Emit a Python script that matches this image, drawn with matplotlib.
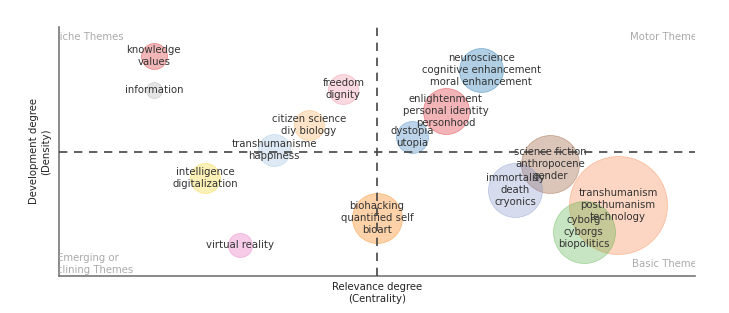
import numpy as np
import matplotlib
matplotlib.use("Agg")
import matplotlib.pyplot as plt
from matplotlib.colors import to_rgba

# Strategic diagram: themes by centrality (x) and density (y)
labels = [
    "knowledge\nvalues",
    "information",
    "freedom\ndignity",
    "citizen science\ndiy biology",
    "transhumanisme\nhappiness",
    "intelligence\ndigitalization",
    "virtual reality",
    "biohacking\nquantified self\nbioart",
    "neuroscience\ncognitive enhancement\nmoral enhancement",
    "enlightenment\npersonal identity\npersonhood",
    "dystopia\nutopia",
    "science fiction\nanthropocene\ngender",
    "immortality\ndeath\ncryonics",
    "transhumanism\nposthumanism\ntechnology",
    "cyborg\ncyborgs\nbiopolitics",
]
centrality = [0.149, 0.149, 0.447, 0.393, 0.338, 0.230, 0.285, 0.500,
              0.664, 0.608, 0.555, 0.772, 0.717, 0.879, 0.825]
density = [0.884, 0.747, 0.751, 0.606, 0.506, 0.394, 0.124, 0.233,
           0.827, 0.663, 0.558, 0.450, 0.345, 0.285, 0.177]
# bubble radius (pixels in the original)
radius = [13, 8, 15, 15, 16, 15, 12, 25, 22, 23, 16, 29, 27, 49, 31]
colors = ["#d62728", "#9a9a9a", "#f06a85", "#fba74a", "#9fc2e0", "#f5d530",
          "#e66fc0", "#fb8f2a", "#1f77b4", "#e0303a", "#3f86c4", "#985730",
          "#7a8ac6", "#f87a37", "#48ac37"]
alphas = [0.33, 0.25, 0.25, 0.3, 0.35, 0.35, 0.35, 0.4, 0.35, 0.36, 0.35,
          0.34, 0.3, 0.3, 0.3]

x_cut = 0.5
y_cut = 0.5

fig = plt.figure(figsize=(7.29, 3.13), dpi=100)
ax = fig.add_axes([59/729, 37/313, 636/729, 249/313])
ax.set_xlim(0, 1)
ax.set_ylim(0, 1)

for i in range(len(labels)):
    s = (2 * radius[i] * 0.72) ** 2
    ax.scatter(centrality[i], density[i], s=s,
               color=to_rgba(colors[i], alphas[i]),
               edgecolors=[to_rgba(colors[i], min(alphas[i] + 0.08, 1))],
               linewidths=0.6, zorder=2)
for i in range(len(labels)):
    ax.text(centrality[i], density[i], labels[i], ha="center", va="center",
            fontsize=7.3, color="#333333", linespacing=1.25, zorder=3)

ax.axvline(x_cut, color="#444444", lw=1.2, ls=(0, (5, 4)), zorder=4)
ax.axhline(y_cut, color="#444444", lw=1.2, ls=(0, (5, 4)), zorder=4)

# quadrant names (partly cut by the plot area, as in the original)
qc = "#aaaaaa"
ax.text(-0.011, 0.96, "Niche Themes", ha="left", va="center", fontsize=7.3,
        color=qc, clip_on=True)
ax.text(1.011, 0.96, "Motor Themes", ha="right", va="center", fontsize=7.3,
        color=qc, clip_on=True)
ax.text(0.046, 0.05, "Emerging or\nDeclining Themes", ha="center", va="center",
        fontsize=7.3, color=qc, linespacing=1.25, clip_on=True)
ax.text(1.011, 0.05, "Basic Themes", ha="right", va="center", fontsize=7.3,
        color=qc, clip_on=True)

ax.text(0.5, -0.068, "Relevance degree\n(Centrality)", transform=ax.transAxes,
        ha="center", va="center", fontsize=7.3, color="#222222", linespacing=1.25)
ax.text(-0.03, 0.5, "Development degree\n(Density)", transform=ax.transAxes,
        ha="center", va="center", rotation=90, fontsize=7.3, color="#222222",
        linespacing=1.25)

ax.spines["top"].set_visible(False)
ax.spines["right"].set_visible(False)
ax.spines["left"].set_color("#777777")
ax.spines["bottom"].set_color("#777777")
ax.spines["left"].set_linewidth(1.2)
ax.spines["bottom"].set_linewidth(1.2)
ax.set_xticks([])
ax.set_yticks([])

fig.savefig("out.png", dpi=100)
